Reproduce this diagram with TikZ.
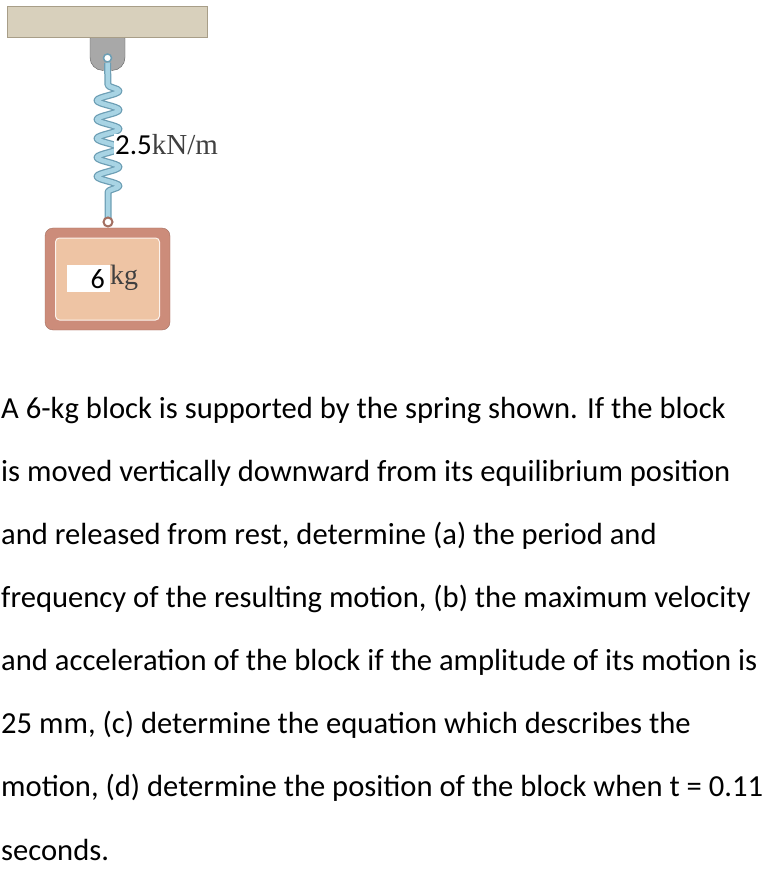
\documentclass[tikz,border=0pt]{standalone}
\usepackage{fontspec}
\setmainfont{Carlito}
\newfontfamily\tms{Liberation Serif}
\usetikzlibrary{decorations.pathmorphing}
\definecolor{ceil}{HTML}{D8D0BC}
\definecolor{ceiledge}{HTML}{A89E88}
\definecolor{brk}{HTML}{A8A8A8}
\definecolor{spr}{HTML}{A8D4E4}
\definecolor{sprd}{HTML}{6C9EB4}
\definecolor{boxo}{HTML}{CC8C7A}
\definecolor{boxi}{HTML}{EEC4A4}
\tikzset{txt/.style={anchor=base west,inner sep=0pt,font=\fontsize{30.6}{30.6}\selectfont},
 sprdec/.style={decoration={snake,segment length=19pt,amplitude=11pt}}}
\begin{document}
\begin{tikzpicture}[x=1pt,y=-1pt]
\useasboundingbox (0,0) rectangle (773,877);
% bracket
\node[draw=gray!70!black,fill=brk,rounded corners=13pt,minimum width=35pt,minimum height=45pt,inner sep=0pt] (brk) at (107.5,48) {};
% ceiling
\node[draw=ceiledge,fill=ceil,minimum width=200pt,minimum height=31pt,inner sep=0pt] (ceil) at (107,22) {};
\node[circle,draw=sprd,fill=white,minimum size=8pt,inner sep=0pt,line width=1.5pt] (hole) at (107.5,58) {};
% spring
\coordinate (s1) at (108,85);
\coordinate (s2) at (108,200);
\coordinate (s3) at (108,218);
\draw[sprd,line width=7pt,line join=round] (hole.south) -- (s1) decorate[sprdec]{-- (s2)} -- (s3);
\draw[spr,line width=4.5pt,line join=round] (hole.south) -- (s1) decorate[sprdec]{-- (s2)} -- (s3);
\node[circle,draw=boxo!80!black,line width=2pt,minimum size=9pt,inner sep=0pt] (ring) at (108,222) {};
% block
\node[draw=boxo!80!black,fill=boxo,rounded corners=8pt,minimum width=125pt,minimum height=102pt,inner sep=0pt] (block) at (107.5,279) {};
\node[draw=white!80!boxi,fill=boxi,rounded corners=4pt,minimum width=104pt,minimum height=82pt,inner sep=0pt,line width=1pt] (inner) at (107.5,279) {};
\node[fill=white,minimum width=43pt,minimum height=27pt,inner sep=0pt] (wb) at (88.5,278.5) {};
\node[anchor=east,inner sep=0pt,font=\fontsize{28}{28}\selectfont] (six) at (105,279) {6};
\node[anchor=west,inner sep=0pt,font=\tms\fontsize{28}{28}\selectfont,text=black!75] (kg) at (110,278) {kg};
% label
\node[fill=white,anchor=west,inner sep=1pt,font=\fontsize{29}{29}\selectfont] (lab) at (114,145) {2.5{\tms\color{black!75}kN/m}};
% text
\node[txt] (l1) at (1,418) {A 6-kg block is supported by the spring shown. If the block};
\node[txt] (l2) at (1,481) {is moved vertically downward from its equilibrium position};
\node[txt] (l3) at (1,544) {and released from rest, determine (a) the period and};
\node[txt] (l4) at (1,607) {frequency of the resulting motion, (b) the maximum velocity};
\node[txt] (l5) at (1,670) {and acceleration of the block if the amplitude of its motion is};
\node[txt] (l6) at (1,733) {25 mm, (c) determine the equation which describes the};
\node[txt] (l7) at (1,796) {motion, (d) determine the position of the block when t = 0.11};
\node[txt] (l8) at (1,860) {seconds.};
\end{tikzpicture}
\end{document}
